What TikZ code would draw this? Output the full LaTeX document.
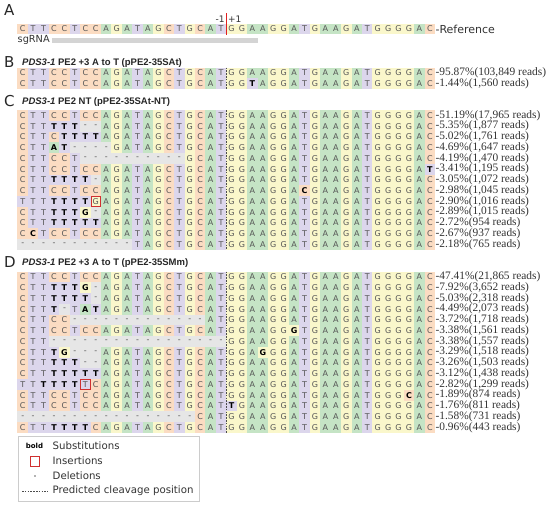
\documentclass[tikz,border=0pt]{standalone}
\usepackage{fontspec}
\newfontfamily\seqfont{DejaVu Sans}
\newfontfamily\serfont{Liberation Serif}
\newfontfamily\arfont{Liberation Sans}
\definecolor{cA}{HTML}{C5E4C5}
\definecolor{cT}{HTML}{DCD6EC}
\definecolor{cC}{HTML}{FBDCC2}
\definecolor{cG}{HTML}{FAF7CB}
\definecolor{cDel}{HTML}{E6E6E6}
\definecolor{seqtxt}{HTML}{555555}
\definecolor{lbltxt}{HTML}{333333}
\definecolor{cutred}{HTML}{E02020}
\definecolor{insred}{HTML}{D03030}
\definecolor{sgbar}{HTML}{D4D4D4}
\newcounter{sqpos}
\def\sqcA{cA}\def\sqca{cA}
\def\sqcT{cT}\def\sqct{cT}
\def\sqcC{cC}\def\sqcc{cC}
\def\sqcG{cG}\def\sqcg{cG}
\expandafter\def\csname sqc-\endcsname{cDel}
\def\sqlA{A}\def\sqla{\bfseries\color{black}A}
\def\sqlT{T}\def\sqlt{\bfseries\color{black}T}
\def\sqlC{C}\def\sqlc{\bfseries\color{black}C}
\def\sqlG{G}\def\sqlg{\bfseries\color{black}G}
\expandafter\def\csname sql-\endcsname{-}
\newcommand\seqrow[3]{\def\sqrow{#1}\def\sqy{#2}\setcounter{sqpos}{0}\sqparse#3\relax}
\def\sqparse#1{\ifx#1\relax\else\sqcell{#1}\expandafter\sqparse\fi}
\newcommand\sqcell[1]{%
  \stepcounter{sqpos}%
  \pgfmathsetmacro\sqx{22.7+(\thesqpos-1)*10.44}%
  \edef\sqcol{\csname sqc#1\endcsname}%
  \fill[fill=\sqcol] (\sqx-5.22,\sqy-5.375) rectangle (\sqx+5.22,\sqy+5.375);
  \node[seq] (s\sqrow-\thesqpos) at (\sqx,\sqy) {\csname sql#1\endcsname};%
}
\newcommand\alrow[4]{\seqrow{#1}{#2}{#3}\node[pct] (p#1) at (435.4,#2) {-#4};}
\begin{document}
\begin{tikzpicture}[x=1pt,y=-1pt,
  seq/.style={font=\seqfont\fontsize{8}{9}\selectfont, text=seqtxt, inner sep=0pt},
  pct/.style={font=\serfont\fontsize{11.4}{12}\selectfont, text=lbltxt, inner sep=0pt, anchor=west},
  panel/.style={font=\seqfont\fontsize{15}{17}\selectfont, text=black!85, inner sep=0pt, anchor=base west},
  ttl/.style={font=\arfont\bfseries\fontsize{9.5}{11}\selectfont, text=black!85, inner sep=0pt, anchor=base west},
  smalllbl/.style={font=\seqfont\fontsize{9}{10}\selectfont, text=lbltxt, inner sep=0pt},
  legtext/.style={font=\seqfont\fontsize{10.2}{11}\selectfont, text=lbltxt, inner sep=0pt, anchor=west},
  cleave/.style={dash pattern=on 1.6pt off 1.2pt, line width=0.6pt, draw=black!70},
  insbox/.style={draw=insred, line width=0.8pt},
  legbox/.style={draw=black!20, line width=0.5pt}]
\useasboundingbox[fill=white] (0,0) rectangle (550,506);
% ---------- A ----------
\node[panel] (lA) at (4,15.5) {A};
\seqrow{A}{29}{CTTCCTCCAGATAGCTGCATGGAAGGATGAAGATGGGGAC}
\node[font=\seqfont\fontsize{11}{12}\selectfont, text=lbltxt, inner sep=0pt, anchor=west] (refl) at (435.4,29) {-Reference};
\coordinate (redtop) at (226.3,13);
\coordinate (redbot) at (226.3,34.5);
\draw[cutred, line width=0.9pt] (redtop) -- (redbot);
\node[smalllbl, anchor=east] (m1) at (224.8,19) {-1};
\node[smalllbl, anchor=west] (p1) at (227.8,19) {+1};
\node[font=\seqfont\fontsize{9.75}{11}\selectfont, text=lbltxt, inner sep=0pt, anchor=west] (sg) at (17.5,40) {sgRNA};
\fill[sgbar] (52,37.6) rectangle (257.6,42.6);
% ---------- B ----------
\node[panel] (lB) at (4,67.5) {B};
\node[ttl] (tB) at (22,65) {\textit{PDS3-1} PE2 +3 A to T (pPE2-35SAt)};
\alrow{B1}{73}{CTTCCTCCAGATAGCTGCATGGAAGGATGAAGATGGGGAC}{95.87\%(103,849 reads)}
\alrow{B2}{83.75}{CTTCCTCCAGATAGCTGCATGGtAGGATGAAGATGGGGAC}{1.44\%(1,560 reads)}
\coordinate (cBt) at (226.3,67.6);
\coordinate (cBb) at (226.3,89.1);
\draw[cleave] (cBt) -- (cBb);
% ---------- C ----------
\node[panel] (lC) at (4,106.5) {C};
\node[ttl] (tC) at (22,104.5) {\textit{PDS3-1} PE2 NT (pPE2-35SAt-NT)};
\alrow{C1}{115.5}{CTTCCTCCAGATAGCTGCATGGAAGGATGAAGATGGGGAC}{51.19\%(17,965 reads)}
\alrow{C2}{126.25}{CTTttt--AGATAGCTGCATGGAAGGATGAAGATGGGGAC}{5.35\%(1,877 reads)}
\alrow{C3}{137}{CTTCttttAGATAGCTGCATGGAAGGATGAAGATGGGGAC}{5.02\%(1,761 reads)}
\alrow{C4}{147.75}{CTTat----GATAGCTGCATGGAAGGATGAAGATGGGGAC}{4.69\%(1,647 reads)}
\alrow{C5}{158.5}{CTTCCT----------GCATGGAAGGATGAAGATGGGGAC}{4.19\%(1,470 reads)}
\alrow{C6}{169.25}{CTTCCTCCAGATAGCTGCATGGAAGGATGAAGATGGGGAt}{3.41\%(1,195 reads)}
\alrow{C7}{180}{CTTtttt-AGATAGCTGCATGGAAGGATGAAGATGGGGAC}{3.05\%(1,072 reads)}
\alrow{C8}{190.75}{CTTCCTCCAGATAGCTGCATGGAAGGAcGAAGATGGGGAC}{2.98\%(1,045 reads)}
\alrow{C9}{201.5}{TTTttttGAGATAGCTGCATGGAAGGATGAAGATGGGGAC}{2.90\%(1,016 reads)}
\alrow{C10}{212.25}{CTTtttg-AGATAGCTGCATGGAAGGATGAAGATGGGGAC}{2.89\%(1,015 reads)}
\alrow{C11}{223}{CTTtttttAGATAGCTGCATGGAAGGATGAAGATGGGGAC}{2.72\%(954 reads)}
\alrow{C12}{233.75}{CcTCCTCCAGATAGCTGCATGGAAGGATGAAGATGGGGAC}{2.67\%(937 reads)}
\alrow{C13}{244.5}{-----------TAGCTGCATGGAAGGATGAAGATGGGGAC}{2.18\%(765 reads)}
\draw[insbox] ([shift={(-4.6,-5)}]sC9-8.center) rectangle ([shift={(4.6,5)}]sC9-8.center);
\coordinate (cCt) at (226.3,110.1);
\coordinate (cCb) at (226.3,249.9);
\draw[cleave] (cCt) -- (cCb);
% ---------- D ----------
\node[panel] (lD) at (4,267.5) {D};
\node[ttl] (tD) at (22,265.5) {\textit{PDS3-1} PE2 +3 A to T (pPE2-35SMm)};
\alrow{D1}{277}{CTTCCTCCAGATAGCTGCATGGAAGGATGAAGATGGGGAC}{47.41\%(21,865 reads)}
\alrow{D2}{287.75}{CTTtttg-AGATAGCTGCATGGAAGGATGAAGATGGGGAC}{7.92\%(3,652 reads)}
\alrow{D3}{298.5}{CTTtttt-AGATAGCTGCATGGAAGGATGAAGATGGGGAC}{5.03\%(2,318 reads)}
\alrow{D4}{309.25}{CTTt-TatAGATAGCTGCATGGAAGGATGAAGATGGGGAC}{4.49\%(2,073 reads)}
\alrow{D5}{320}{CTTCC-------------ATGGAAGGATGAAGATGGGGAC}{3.72\%(1,718 reads)}
\alrow{D6}{330.75}{CTTCCTCCAGATAGCTGCATGGAAGGgTGAAGATGGGGAC}{3.38\%(1,561 reads)}
\alrow{D7}{341.5}{CTT-----------------GGAAGGATGAAGATGGGGAC}{3.38\%(1,557 reads)}
\alrow{D8}{352.25}{CTTtg---AGATAGCTGCATGGAgGGATGAAGATGGGGAC}{3.29\%(1,518 reads)}
\alrow{D9}{363}{CTTttt--AGATAGCTGCATGGAAGGATGAAGATGGGGAC}{3.26\%(1,503 reads)}
\alrow{D10}{373.75}{CTTtttttAGATAGCTGCATGGAAGGATGAAGATGGGGAC}{3.12\%(1,438 reads)}
\alrow{D11}{384.5}{TTttttTCAGATAGCTGCATGGAAGGATGAAGATGGGGAC}{2.82\%(1,299 reads)}
\alrow{D12}{395.25}{CTTCCTCCAGATAGCTGCATGGAAGGATGAAGATGGGcAC}{1.89\%(874 reads)}
\alrow{D13}{406}{CTTCCTCCAGATAGCTGCATtGAAGGATGAAGATGGGGAC}{1.76\%(811 reads)}
\alrow{D14}{416.75}{-----------------CATGGAAGGATGAAGATGGGGAC}{1.58\%(731 reads)}
\alrow{D15}{427.5}{CTTttttCAGATAGCTGCATGGAAGGATGAAGATGGGGAC}{0.96\%(443 reads)}
\draw[insbox] ([shift={(-4.6,-5)}]sD11-7.center) rectangle ([shift={(4.6,5)}]sD11-7.center);
\coordinate (cDt) at (226.3,271.6);
\coordinate (cDb) at (226.3,432.9);
\draw[cleave] (cDt) -- (cDb);
% ---------- legend ----------
\draw[legbox] (18,436) rectangle (199,501);
\node[font=\seqfont\bfseries\fontsize{7}{8}\selectfont, inner sep=0pt] (lgb) at (34.5,446) {bold};
\node[legtext] (lg1) at (52.5,446) {Substitutions};
\draw[insbox] (30,456.5) rectangle (39.5,466);
\node[legtext] (lg2) at (52.5,461) {Insertions};
\fill[black!60] (35,476) circle (0.8);
\node[legtext] (lg3) at (52.5,476) {Deletions};
\coordinate (lgl1) at (22,491);
\coordinate (lgl2) at (48,491);
\draw[cleave] (lgl1) -- (lgl2);
\node[legtext] (lg4) at (52.5,491) {Predicted cleavage position};
\end{tikzpicture}
\end{document}
